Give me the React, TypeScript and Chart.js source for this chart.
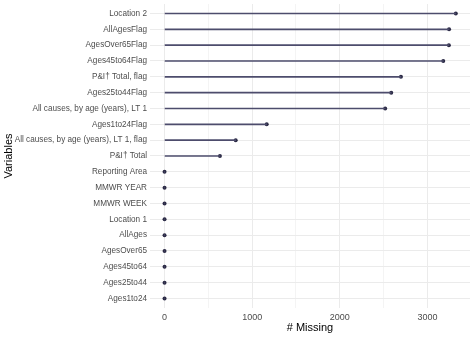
import React, { useEffect, useRef } from "react";
import { Chart, registerables } from "chart.js";

Chart.register(...registerables);

const variables = [
  "Location 2",
  "AllAgesFlag",
  "AgesOver65Flag",
  "Ages45to64Flag",
  "P&I† Total, flag",
  "Ages25to44Flag",
  "All causes, by age (years), LT 1",
  "Ages1to24Flag",
  "All causes, by age (years), LT 1, flag",
  "P&I† Total",
  "Reporting Area",
  "MMWR YEAR",
  "MMWR WEEK",
  "Location 1",
  "AllAges",
  "AgesOver65",
  "Ages45to64",
  "Ages25to44",
  "Ages1to24",
];
const missing = [3324, 3247, 3245, 3181, 2698, 2587, 2518, 1166, 812, 632, 0, 0, 0, 0, 0, 0, 0, 0, 0];
const xTicks = [0, 500, 1000, 1500, 2000, 2500, 3000];

export default function App() {
  const ref = useRef<HTMLCanvasElement | null>(null);
  useEffect(() => {
    document.body.style.margin = "0";
    const pts = missing.map((v, i) => ({ x: v, y: i }));
    const zeroPad = (s: any) => {
      s.paddingTop = 0;
      s.paddingBottom = 0;
      s.paddingLeft = 0;
      s.paddingRight = 0;
    };
    const chart = new Chart(ref.current!, {
      type: "bar",
      data: {
        datasets: [
          {
            type: "bar",
            data: pts,
            backgroundColor: "#4d4c6c",
            barThickness: 1,
            indexAxis: "y",
          } as any,
          {
            type: "line",
            data: pts,
            showLine: false,
            pointRadius: 2,
            pointBackgroundColor: "#2b2a45",
            pointBorderWidth: 0,
            indexAxis: "y",
          } as any,
        ],
      },
      options: {
        animation: false,
        responsive: false,
        indexAxis: "y",
        layout: { padding: { top: 4, right: 4, left: 0, bottom: 0 } },
        plugins: { legend: { display: false }, tooltip: { enabled: false } },
        scales: {
          x: {
            type: "linear",
            min: -166,
            max: 3486,
            offset: false,
            afterBuildTicks: (s: any) => {
              s.ticks = xTicks.map((v) => ({ value: v }));
            },
            afterFit: (s: any) => {
              s.height = 30;
              zeroPad(s);
            },
            border: { display: false },
            grid: {
              drawTicks: false,
              offset: false,
              color: (c: any) => (c.tick && c.tick.value % 1000 === 0 ? "#ebebeb" : "#f4f4f4"),
              lineWidth: 1,
            },
            ticks: {
              padding: 4,
              color: "#4d4d4d",
              font: { family: "Liberation Sans, Arial", size: 9 },
              callback: (v: any) => (Number(v) % 1000 === 0 ? String(v) : ""),
              maxRotation: 0,
            },
            title: {
              display: true,
              text: "# Missing",
              color: "#000000",
              font: { family: "Liberation Sans, Arial", size: 11 },
              padding: { top: 0, bottom: 3 },
            },
          },
          y: {
            type: "linear",
            min: -0.6,
            max: 18.6,
            reverse: true,
            offset: false,
            afterBuildTicks: (s: any) => {
              s.ticks = variables.map((_, i) => ({ value: i }));
            },
            afterFit: (s: any) => {
              s.width = 150;
              zeroPad(s);
            },
            border: { display: false },
            grid: { drawTicks: false, offset: false, color: "#ebebeb", lineWidth: 1 },
            ticks: {
              padding: 3,
              color: "#4d4d4d",
              autoSkip: false,
              font: { family: "Liberation Sans, Arial", size: 8.2 },
              callback: (v: any) => variables[Number(v)] ?? "",
            },
            title: {
              display: true,
              text: "Variables",
              color: "#000000",
              font: { family: "Liberation Sans, Arial", size: 11 },
              padding: { top: 2, bottom: 0 },
            },
          },
        },
      },
    });
    return () => chart.destroy();
  }, []);
  return <canvas ref={ref} width={474} height={338} style={{ display: "block" }} />;
}
